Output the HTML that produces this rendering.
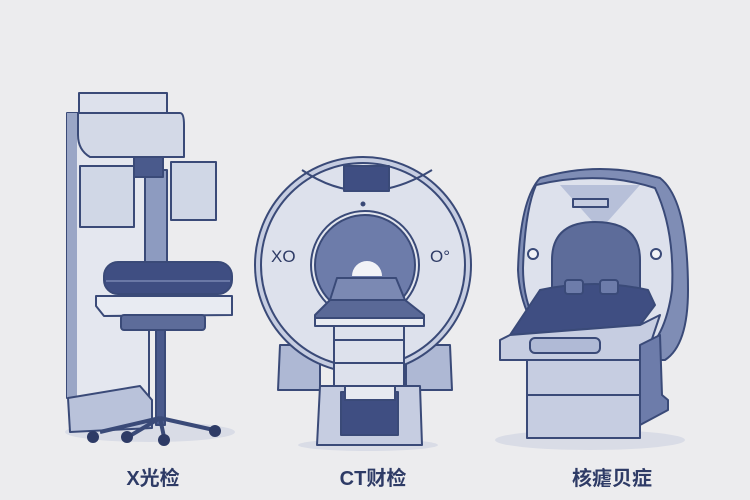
<!DOCTYPE html>
<html><head><meta charset="utf-8"><style>
html,body{margin:0;padding:0;background:#ececee;}
svg{display:block;}
text{font-family:"Liberation Sans","Noto Sans CJK SC",sans-serif;fill:#2e3b66;}
</style></head><body>
<svg width="750" height="500" viewBox="0 0 750 500" xmlns="http://www.w3.org/2000/svg">
<rect width="750" height="500" fill="#ececee"/>
<g stroke="#3a4a78" stroke-width="2" stroke-linejoin="round">
<!-- X-ray -->
<ellipse cx="150" cy="432" rx="85" ry="10" fill="#d9dce6" stroke="none"/>
<rect x="67" y="113" width="82" height="285" fill="#e4e7ef"/>
<rect x="67" y="113" width="10" height="285" fill="#9aa6c6" stroke="none"/>
<path d="M68 398 L140 386 L152 400 L152 428 L70 432 Z" fill="#b9c2da"/>
<rect x="79" y="93" width="88" height="22" fill="#dde1ec"/>
<path d="M78 113 L180 113 Q184 113 184 125 L184 157 L90 157 Q78 150 78 135 Z" fill="#d3d9e7"/>
<rect x="80" y="166" width="54" height="61" fill="#d0d7e6"/>
<rect x="171" y="162" width="45" height="58" fill="#d0d7e6"/>
<rect x="145" y="170" width="22" height="95" fill="#8d9bc0"/>
<rect x="134" y="157" width="29" height="20" fill="#4a5a8c"/>
<path d="M96 296 L232 296 L232 315 L104 316 L96 306 Z" fill="#e8ebf2"/>
<rect x="104" y="262" width="128" height="32" rx="14" fill="#3f4e82"/>
<line x1="106" y1="281" x2="230" y2="281" stroke="#6a78a6"/>
<rect x="121" y="315" width="84" height="15" rx="3" fill="#5d6c9a"/>
<rect x="156" y="330" width="9" height="95" fill="#4a5a8c"/>
<path d="M160 418 L100 432 M160 418 L128 437 M160 418 L164 437 M160 418 L214 430" stroke="#3a4a78" stroke-width="4"/>
<g fill="#2e3b66" stroke="none"><circle cx="93" cy="437" r="6"/><circle cx="127" cy="437" r="6"/><circle cx="164" cy="440" r="6"/><circle cx="215" cy="431" r="6"/></g>
<!-- CT -->
<ellipse cx="368" cy="445" rx="70" ry="6" fill="#d9dce6" stroke="none"/>
<path d="M280 345 L320 345 L320 390 L278 390 Z" fill="#aeb8d4"/>
<path d="M406 345 L450 345 L452 390 L406 390 Z" fill="#aeb8d4"/>
<circle cx="363" cy="265" r="108" fill="#c6cde1"/>
<circle cx="363" cy="265" r="102" fill="#dde1ec"/>
<path d="M302 170 Q363 212 432 170" fill="none"/>
<rect x="344" y="166" width="45" height="25" fill="#3f4e82"/>
<circle cx="363" cy="204" r="1.5" fill="#2e3b66"/>
<circle cx="365" cy="265" r="54" fill="#e4e7ef"/>
<circle cx="365" cy="265" r="50" fill="#6d7caa"/>
<path d="M352 276 A15 15 0 0 1 382 276 Z" fill="#f2f3f7" stroke="none"/>
<text x="271" y="262" font-size="17" stroke="none">XO</text>
<text x="430" y="262" font-size="17" stroke="none">O°</text>
<path d="M337 278 L396 278 L405 300 L330 300 Z" fill="#7b89b3"/>
<path d="M330 300 L405 300 L424 315 L424 323 L315 323 L315 315 Z" fill="#5a6997"/>
<rect x="315" y="318" width="109" height="8" fill="#e7eaf1"/>
<rect x="334" y="326" width="70" height="60" fill="#dde1ec"/>
<line x1="334" y1="340" x2="404" y2="340"/><line x1="334" y1="363" x2="404" y2="363"/>
<path d="M320 386 L420 386 L422 445 L317 445 Z" fill="#c6cde1"/>
<rect x="341" y="392" width="57" height="43" fill="#3f4e82"/>
<rect x="345" y="386" width="50" height="14" fill="#e7eaf1"/>
<!-- MRI -->
<ellipse cx="590" cy="440" rx="95" ry="10" fill="#d9dce6" stroke="none"/>
<path d="M540 178 Q600 160 660 178 Q688 200 688 290 Q688 345 665 360 L560 360 Q520 320 518 270 Q520 200 540 178 Z" fill="#7f8db5"/>
<path d="M536 185 Q600 170 655 188 Q675 230 672 290 Q665 340 640 355 L560 355 Q523 320 523 268 Q525 210 536 185 Z" fill="#dde1ec"/>
<path d="M560 185 L640 185 L600 230 Z" fill="#b7c0d9" stroke="none"/>
<rect x="573" y="199" width="35" height="8" fill="#c6cde1"/>
<circle cx="533" cy="254" r="5" fill="#f2f3f7"/><circle cx="656" cy="254" r="5" fill="#f2f3f7"/>
<path d="M552 290 L552 260 Q552 222 595 222 Q640 222 640 260 L640 290 Z" fill="#5d6c9a"/>
<path d="M540 290 Q595 278 648 290 L655 305 L640 325 L510 335 Z" fill="#3f4e82"/>
<rect x="565" y="280" width="18" height="14" rx="3" fill="#6d7caa"/><rect x="600" y="280" width="18" height="14" rx="3" fill="#6d7caa"/>
<path d="M500 340 L510 335 L640 325 L660 315 L650 345 L642 360 L500 360 Z" fill="#c6cde1"/>
<rect x="530" y="338" width="70" height="15" rx="5" fill="#b0bad6"/>
<rect x="527" y="360" width="113" height="78" fill="#c6cde1"/>
<line x1="527" y1="395" x2="640" y2="395"/>
<path d="M640 345 L660 335 L662 395 L668 400 L668 410 L640 425 Z" fill="#6d7caa"/>
</g>
<text x="153" y="485" font-size="20" text-anchor="middle" font-weight="bold">X光检</text>
<text x="373" y="485" font-size="20" text-anchor="middle" font-weight="bold">CT财检</text>
<text x="612" y="485" font-size="20" text-anchor="middle" font-weight="bold">核瘧贝症</text>
</svg>
</body></html>
